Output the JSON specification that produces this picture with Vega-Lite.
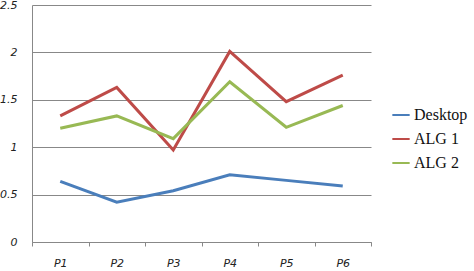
{
  "$schema": "https://vega.github.io/schema/vega-lite/v6.json",
  "width": 339,
  "height": 237,
  "autosize": "none",
  "padding": {"left": 32, "top": 5, "right": 103, "bottom": 29},
  "background": "white",
  "data": {"values": [
    {"p": "P1", "s": "Desktop", "v": 0.64},
    {"p": "P2", "s": "Desktop", "v": 0.42},
    {"p": "P3", "s": "Desktop", "v": 0.54},
    {"p": "P4", "s": "Desktop", "v": 0.71},
    {"p": "P5", "s": "Desktop", "v": 0.65},
    {"p": "P6", "s": "Desktop", "v": 0.59},
    {"p": "P1", "s": "ALG 1", "v": 1.33},
    {"p": "P2", "s": "ALG 1", "v": 1.63},
    {"p": "P3", "s": "ALG 1", "v": 0.97},
    {"p": "P4", "s": "ALG 1", "v": 2.01},
    {"p": "P5", "s": "ALG 1", "v": 1.48},
    {"p": "P6", "s": "ALG 1", "v": 1.76},
    {"p": "P1", "s": "ALG 2", "v": 1.20},
    {"p": "P2", "s": "ALG 2", "v": 1.33},
    {"p": "P3", "s": "ALG 2", "v": 1.09},
    {"p": "P4", "s": "ALG 2", "v": 1.69},
    {"p": "P5", "s": "ALG 2", "v": 1.21},
    {"p": "P6", "s": "ALG 2", "v": 1.44}
  ]},
  "mark": {"type": "line", "strokeWidth": 3},
  "encoding": {
    "x": {
      "field": "p", "type": "nominal", "title": null,
      "scale": {"type": "band", "paddingInner": 0, "paddingOuter": 0},
      "axis": {
        "labelAngle": 0, "labelFont": "DejaVu Sans", "labelFontStyle": "italic",
        "labelFontSize": 11, "labelColor": "#222", "labelPadding": 11,
        "domainColor": "#888", "tickColor": "#888", "tickSize": 4,
        "tickBand": "extent", "grid": false
      }
    },
    "y": {
      "field": "v", "type": "quantitative", "title": null,
      "scale": {"domain": [0, 2.5], "nice": false},
      "axis": {
        "values": [0, 0.5, 1, 1.5, 2, 2.5], "format": "~g",
        "labelFont": "DejaVu Sans", "labelFontStyle": "italic",
        "labelFontSize": 11, "labelColor": "#222", "labelPadding": 15,
        "ticks": false, "domainColor": "#888", "gridColor": "#888",
        "gridWidth": 1
      }
    },
    "color": {
      "field": "s", "type": "nominal",
      "sort": ["Desktop", "ALG 1", "ALG 2"],
      "scale": {"domain": ["Desktop", "ALG 1", "ALG 2"], "range": ["#4A7EBB", "#BE4B48", "#98B954"]},
      "legend": {
        "title": null, "orient": "none", "legendX": 359, "legendY": 100,
        "symbolType": "stroke", "symbolStrokeWidth": 2, "symbolSize": 300,
        "labelFont": "Liberation Serif", "labelFontSize": 16, "labelColor": "#111",
        "rowPadding": 6, "labelOffset": 3
      }
    }
  },
  "config": {"view": {"stroke": null}}
}
